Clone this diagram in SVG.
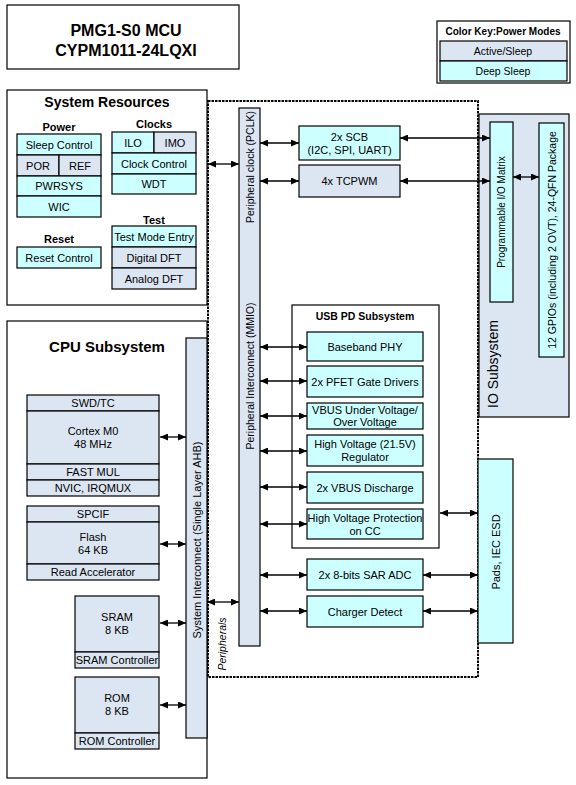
<svg xmlns="http://www.w3.org/2000/svg" width="576" height="785" viewBox="0 0 576 785">
<defs>
<marker id="ah" markerWidth="8" markerHeight="7" refX="8" refY="3.5" orient="auto-start-reverse" markerUnits="userSpaceOnUse"><path d="M0,0 L8,3.5 L0,7 z" fill="#000"/></marker>
</defs>
<style>
text{font-family:"Liberation Sans",Arial,sans-serif;fill:#000;}
.t{font-size:11px;text-anchor:middle;dominant-baseline:central;}
.tb{font-size:11px;font-weight:bold;text-anchor:middle;dominant-baseline:central;}
.frame{fill:#fff;stroke:#000;stroke-width:1.2;}
.c{fill:#ccffff;stroke:#000;stroke-width:1.2;}
.g{fill:#dce6f2;stroke:#000;stroke-width:1.2;}
.dash{fill:none;stroke:#000;stroke-width:2;stroke-dasharray:2.5 1;}
.a{stroke:#000;stroke-width:1.3;fill:none;marker-start:url(#ah);marker-end:url(#ah);}
</style>
<rect width="576" height="785" fill="#fff"/>

<g id="title">
<rect class="frame" x="7" y="5" width="232" height="64"/>
<text x="126" y="30" style="font-size:16px;font-weight:bold;text-anchor:middle;dominant-baseline:central">PMG1-S0 MCU</text>
<text x="126" y="50" style="font-size:16px;font-weight:bold;text-anchor:middle;dominant-baseline:central">CYPM1011-24LQXI</text>
</g>

<g id="colorkey">
<rect class="frame" x="437" y="21" width="133" height="62"/>
<text class="tb" x="503" y="31" style="font-size:10px">Color Key:Power Modes</text>
<rect class="g" x="440" y="41" width="127" height="20"/>
<text class="t" x="503" y="51" style="font-size:10.5px">Active/Sleep</text>
<rect class="c" x="440" y="61" width="127" height="20"/>
<text class="t" x="503" y="71" style="font-size:10.5px">Deep Sleep</text>
</g>

<g id="system-resources">
<rect class="frame" x="7" y="90" width="200" height="215"/>
<text class="tb" x="107" y="102" style="font-size:14px">System Resources</text>
<text class="tb" x="59" y="127">Power</text>
<rect class="c" x="17" y="134" width="84" height="21"/>
<text class="t" x="59" y="144.5">Sleep Control</text>
<rect class="g" x="17" y="155" width="42" height="21"/>
<text class="t" x="38" y="165.5">POR</text>
<rect class="g" x="59" y="155" width="42" height="21"/>
<text class="t" x="80" y="165.5">REF</text>
<rect class="c" x="17" y="176" width="84" height="20"/>
<text class="t" x="59" y="186">PWRSYS</text>
<rect class="c" x="17" y="196" width="84" height="21"/>
<text class="t" x="59" y="206.5">WIC</text>

<text class="tb" x="154" y="124">Clocks</text>
<rect class="c" x="112" y="132" width="42" height="21"/>
<text class="t" x="133" y="142.5">ILO</text>
<rect class="g" x="154" y="132" width="42" height="21"/>
<text class="t" x="175" y="142.5">IMO</text>
<rect class="c" x="112" y="153" width="84" height="21"/>
<text class="t" x="154" y="163.5">Clock Control</text>
<rect class="c" x="112" y="174" width="84" height="20"/>
<text class="t" x="154" y="184">WDT</text>

<text class="tb" x="154" y="220">Test</text>
<rect class="c" x="112" y="226" width="84" height="21"/>
<text class="t" x="154" y="236.5">Test Mode Entry</text>
<rect class="g" x="112" y="247" width="84" height="21"/>
<text class="t" x="154" y="257.5">Digital DFT</text>
<rect class="g" x="112" y="268" width="84" height="21"/>
<text class="t" x="154" y="278.5">Analog DFT</text>

<text class="tb" x="59" y="239">Reset</text>
<rect class="c" x="17" y="247" width="84" height="21"/>
<text class="t" x="59" y="257.5">Reset Control</text>
</g>

<g id="cpu-subsystem">
<rect class="frame" x="7" y="321" width="200" height="457"/>
<text class="tb" x="107" y="346" style="font-size:15px">CPU Subsystem</text>
</g>

<g id="cortex">
<rect class="g" x="27" y="395" width="132" height="16"/>
<text class="t" x="93" y="403">SWD/TC</text>
<rect class="g" x="27" y="411" width="132" height="53"/>
<text class="t" x="93" y="431">Cortex M0</text>
<text class="t" x="93" y="444">48 MHz</text>
<rect class="g" x="27" y="464" width="132" height="16"/>
<text class="t" x="93" y="472">FAST MUL</text>
<rect class="g" x="27" y="480" width="132" height="16"/>
<text class="t" x="93" y="488">NVIC, IRQMUX</text>
</g>

<g id="flash">
<rect class="g" x="27" y="506" width="132" height="16"/>
<text class="t" x="93" y="514">SPCIF</text>
<rect class="g" x="27" y="522" width="132" height="42"/>
<text class="t" x="93" y="537">Flash</text>
<text class="t" x="93" y="550">64 KB</text>
<rect class="g" x="27" y="564" width="132" height="16"/>
<text class="t" x="93" y="572">Read Accelerator</text>
</g>

<g id="sram">
<rect class="g" x="75" y="596" width="84" height="56"/>
<text class="t" x="117" y="617">SRAM</text>
<text class="t" x="117" y="630">8 KB</text>
<rect class="g" x="75" y="652" width="84" height="16"/>
<text class="t" x="117" y="660">SRAM Controller</text>
</g>

<g id="rom">
<rect class="g" x="75" y="677" width="84" height="56"/>
<text class="t" x="117" y="698">ROM</text>
<text class="t" x="117" y="711">8 KB</text>
<rect class="g" x="75" y="733" width="84" height="16"/>
<text class="t" x="117" y="741">ROM Controller</text>
</g>

<g id="system-interconnect">
<rect class="g" x="186" y="338" width="21" height="400"/>
<text class="t" x="197" y="540" transform="rotate(-90 197 540)">System Interconnect (Single Layer AHB)</text>
</g>

<g id="peripherals">
<rect class="dash" x="208" y="101" width="270" height="576"/>
<text x="222" y="644" transform="rotate(-90 222 644)" style="font-size:10.5px;font-style:italic;text-anchor:middle;dominant-baseline:central">Peripherals</text>
</g>

<g id="peripheral-bus">
<rect class="g" x="239" y="108" width="21" height="538"/>
<text class="t" x="249.5" y="167" transform="rotate(-90 249.5 167)" style="font-size:10.5px">Peripheral clock (PCLK)</text>
<text class="t" x="249.5" y="376" transform="rotate(-90 249.5 376)" style="font-size:10.5px">Peripheral Interconnect (MMIO)</text>
</g>

<g id="scb">
<rect class="c" x="299" y="126" width="101" height="34"/>
<text class="t" x="349.5" y="137">2x SCB</text>
<text class="t" x="349.5" y="150">(I2C, SPI, UART)</text>
</g>
<g id="tcpwm">
<rect class="g" x="299" y="165" width="101" height="32"/>
<text class="t" x="349.5" y="181">4x TCPWM</text>
</g>

<g id="usbpd">
<rect class="frame" x="292" y="305" width="147" height="243"/>
<text class="tb" x="365" y="316" style="font-size:10.5px">USB PD Subsystem</text>
<rect class="c" x="307" y="332" width="116" height="29"/>
<text class="t" x="365" y="346.5">Baseband PHY</text>
<rect class="c" x="307" y="366" width="116" height="31"/>
<text class="t" x="365" y="381.5">2x PFET Gate Drivers</text>
<rect class="c" x="307" y="403" width="116" height="26"/>
<text class="t" x="365" y="410">VBUS Under Voltage/</text>
<text class="t" x="365" y="422">Over Voltage</text>
<rect class="c" x="307" y="435" width="116" height="31"/>
<text class="t" x="365" y="444">High Voltage (21.5V)</text>
<text class="t" x="365" y="457">Regulator</text>
<rect class="c" x="307" y="472" width="116" height="31"/>
<text class="t" x="365" y="487.5">2x VBUS Discharge</text>
<rect class="c" x="307" y="509" width="116" height="30"/>
<text class="t" x="365" y="518">High Voltage Protection</text>
<text class="t" x="365" y="531">on CC</text>
</g>

<g id="sar-adc">
<rect class="c" x="307" y="559" width="116" height="31"/>
<text class="t" x="365" y="574.5">2x 8-bits SAR ADC</text>
</g>
<g id="charger-detect">
<rect class="c" x="307" y="596" width="116" height="31"/>
<text class="t" x="365" y="611.5">Charger Detect</text>
</g>

<g id="io-subsystem">
<rect class="g" x="479" y="114" width="90" height="303"/>
<text x="493" y="364" transform="rotate(-90 493 364)" style="font-size:14px;text-anchor:middle;dominant-baseline:central">IO Subsystem</text>
<rect class="c" x="490" y="122" width="23" height="180"/>
<text class="t" x="501.5" y="212" transform="rotate(-90 501.5 212)" style="font-size:10px">Programmable I/O Matrix</text>
<rect class="c" x="539" y="123" width="25" height="234"/>
<text class="t" x="551.5" y="240" transform="rotate(-90 551.5 240)" style="font-size:10.5px">12 GPIOs (including 2 OVT), 24-QFN Package</text>
</g>

<g id="pads">
<rect class="c" x="478" y="459" width="35" height="184"/>
<text class="t" x="496" y="552" transform="rotate(-90 496 552)">Pads, IEC ESD</text>
</g>

<g id="connectors">
<line class="a" x1="208" y1="164" x2="239" y2="164"/>
<line class="a" x1="207" y1="602" x2="239" y2="602"/>
<line class="a" x1="160" y1="437" x2="186" y2="437"/>
<line class="a" x1="160" y1="544" x2="186" y2="544"/>
<line class="a" x1="160" y1="623" x2="186" y2="623"/>
<line class="a" x1="160" y1="705" x2="186" y2="705"/>
<line class="a" x1="260" y1="143" x2="299" y2="143"/>
<line class="a" x1="260" y1="181" x2="299" y2="181"/>
<line class="a" x1="400" y1="138" x2="490" y2="138"/>
<line class="a" x1="400" y1="181" x2="490" y2="181"/>
<line class="a" x1="513" y1="177" x2="539" y2="177"/>
<line class="a" x1="260" y1="347" x2="307" y2="347"/>
<line class="a" x1="260" y1="381" x2="307" y2="381"/>
<line class="a" x1="260" y1="416" x2="307" y2="416"/>
<line class="a" x1="260" y1="451" x2="307" y2="451"/>
<line class="a" x1="260" y1="487" x2="307" y2="487"/>
<line class="a" x1="260" y1="524" x2="307" y2="524"/>
<line class="a" x1="260" y1="575" x2="307" y2="575"/>
<line class="a" x1="260" y1="611" x2="307" y2="611"/>
<line class="a" x1="440" y1="513" x2="478" y2="513"/>
<line class="a" x1="423" y1="575" x2="478" y2="575"/>
<line class="a" x1="423" y1="611" x2="478" y2="611"/>
</g>
</svg>
